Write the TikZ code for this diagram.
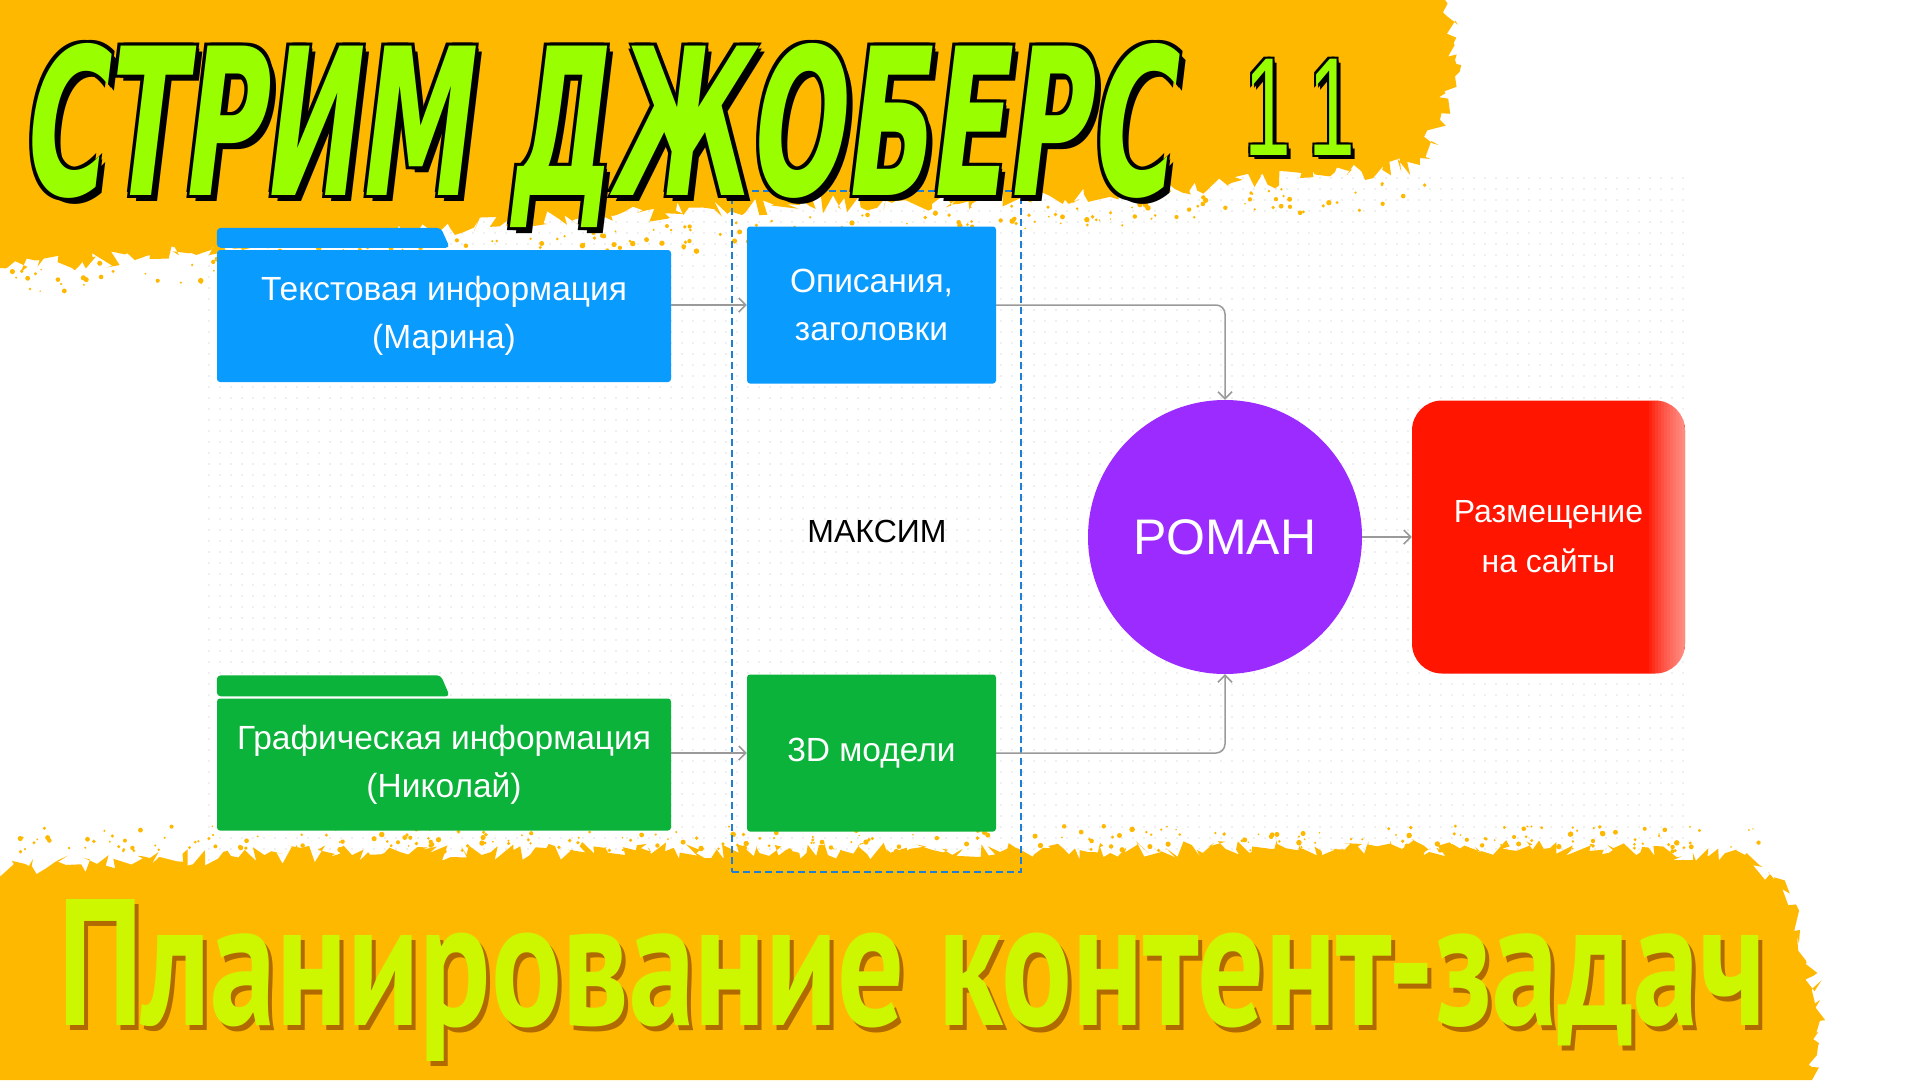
\documentclass[tikz,border=0pt]{standalone}
\usepackage{fontspec}
\setmainfont{Liberation Sans}
\newfontfamily\grungefont[FakeSlant=0.22]{DejaVu Sans}
\newfontfamily\bandfont{PT Sans}
\usetikzlibrary{arrows.meta,decorations.pathmorphing,patterns.meta}
\definecolor{paint}{HTML}{FFB800}
\definecolor{lime}{HTML}{99FF00}
\definecolor{boxblue}{HTML}{0A9BFF}
\definecolor{boxgreen}{HTML}{0BB33A}
\definecolor{boxpurple}{HTML}{9B2BFF}
\definecolor{boxred}{HTML}{FF1500}
\definecolor{frameblue}{HTML}{1F7FD6}
\definecolor{wiregray}{HTML}{9A9A9A}
\definecolor{yellowgreen}{HTML}{CCF700}
\definecolor{bandshadow}{HTML}{B06A00}
\newcommand{\streamtitle}{\scalebox{0.55}[1]{СТРИМ ДЖОБЕРС}}
\newcommand{\streamnum}{\scalebox{0.6}[1]{1\hspace{28pt}1}}
\newcommand{\bandtitle}{\scalebox{0.735}[1]{Планирование контент-задач}}

\begin{document}
\begin{tikzpicture}[x=1pt,y=-1pt,
  box/.style={rectangle, rounded corners=3pt, text=white, align=center, font=\fontsize{33.5}{48}\selectfont},
  folder/.style={box, minimum width=454pt, minimum height=132pt},
  task/.style={box, minimum width=249pt, minimum height=157pt},
  wire/.style={draw=wiregray, line width=1.5pt, -{Straight Barb[length=7pt,width=14pt]}, rounded corners=9pt},
  rag/.style={decoration={random steps, segment length=5pt, amplitude=9pt}},
  grunge/.style={inner sep=0pt, font=\grungefont\bfseries\fontsize{205}{205}\selectfont},
  numfont/.style={inner sep=0pt, font=\fontsize{140}{140}\selectfont},
  bandfont/.style={inner sep=0pt, font=\bandfont\bfseries\fontsize{180}{180}\selectfont}]
\useasboundingbox (0,0) rectangle (1920,1080);
\fill[white] (0,0) rectangle (1920,1080);
\fill[pattern={Dots[distance=11pt,radius=0.9pt]}, pattern color=black!12] (205,170) rectangle (1690,870);
\pgfmathsetseed{7}
\fill[paint] (0,0) -- (1445,0) decorate[rag]{-- (1455,60) -- (1440,120) -- (1420,165) -- (1300,178) -- (1150,190) -- (1000,200) -- (800,205) -- (600,215) -- (450,228) -- (300,240) -- (150,255) -- (0,268)} -- cycle;
\fill[paint] (0,1080) -- (0,870) decorate[rag]{-- (150,858) -- (400,852) -- (700,850) -- (1000,852) -- (1300,848) -- (1550,848) -- (1745,855) -- (1775,880) -- (1800,930) -- (1820,1000) -- (1812,1080)} -- cycle;
\foreach \i in {1,...,220} {
  \pgfmathsetmacro{\sx}{rnd*1430}
  \pgfmathsetmacro{\sy}{268-0.063*\sx+rnd*28}
  \fill[paint] (\sx,\sy) circle ({0.8+2*rnd});
}
\foreach \i in {1,...,260} {
  \pgfmathsetmacro{\sx}{rnd*1760}
  \pgfmathsetmacro{\sy}{852-rnd*26}
  \fill[paint] (\sx,\sy) circle ({0.8+2*rnd});
}

\node[draw=frameblue, dashed, dash pattern=on 7pt off 4pt, line width=1.5pt, minimum width=289pt, minimum height=681pt] (FRM) at (876.5,531.5) {};
\node[folder, fill=boxblue] (TXT) at (444,316) {Текстовая информация\\(Марина)};
\fill[boxblue, rounded corners=4pt] ([yshift=2pt]TXT.north west) |- ++(224,-20) -- ++(9,20) -- cycle;
\node[task, fill=boxblue] (OPI) at (871.5,305) {Описания,\\заголовки};
\node[folder, fill=boxgreen] (GRA) at (444,764.5) {Графическая информация\\(Николай)};
\fill[boxgreen, rounded corners=4pt] ([yshift=2pt]GRA.north west) |- ++(224,-21) -- ++(9,21) -- cycle;
\node[task, fill=boxgreen] (MOD) at (871.5,753) {3D модели};
\node[font=\fontsize{32}{32}\selectfont] (MAX) at (877,531) {МАКСИМ};
\node[circle, fill=boxpurple, minimum size=274pt, text=white, font=\fontsize{50}{50}\selectfont] (ROM) at (1225,537) {РОМАН};
\node[box, fill=boxred, rounded corners=30pt, minimum width=273pt, minimum height=273pt, font=\fontsize{32}{50}\selectfont,
  path picture={\foreach \k in {1,...,12} \fill[white, opacity=0.06, sharp corners] ([xshift=-\k*3pt]path picture bounding box.north east) rectangle (path picture bounding box.south east);}] (RAZ) at (1548.5,537) {Размещение\\на сайты};

\draw[wire] (TXT.east |- OPI.west) -- (OPI.west);
\draw[wire] (OPI.east) -| (ROM.north);
\draw[wire] (GRA.east |- MOD.west) -- (MOD.west);
\draw[wire] (MOD.east) -| (ROM.south);
\draw[wire] (ROM.east) -- (RAZ.west);

\foreach \dx/\dy [count=\i] in {-3/-3,3/-3,-3/3,3/3,6/6} {
  \node[grunge, text=black] (SHD\i) at (595+\dx,135+\dy) {\streamtitle};
  \node[numfont, text=black] (NSH\i) at (1300+\dx/1.5,107+\dy/1.5) {\streamnum};
}
\node[grunge, text=lime] (TTL) at (595,135) {\streamtitle};
\node[numfont, text=lime] (NUM) at (1300,107) {\streamnum};
\node[bandfont, text=bandshadow] (BSH) at (916,985) {\bandtitle};
\node[bandfont, text=yellowgreen] (BND) at (912,980) {\bandtitle};
\end{tikzpicture}
\end{document}
